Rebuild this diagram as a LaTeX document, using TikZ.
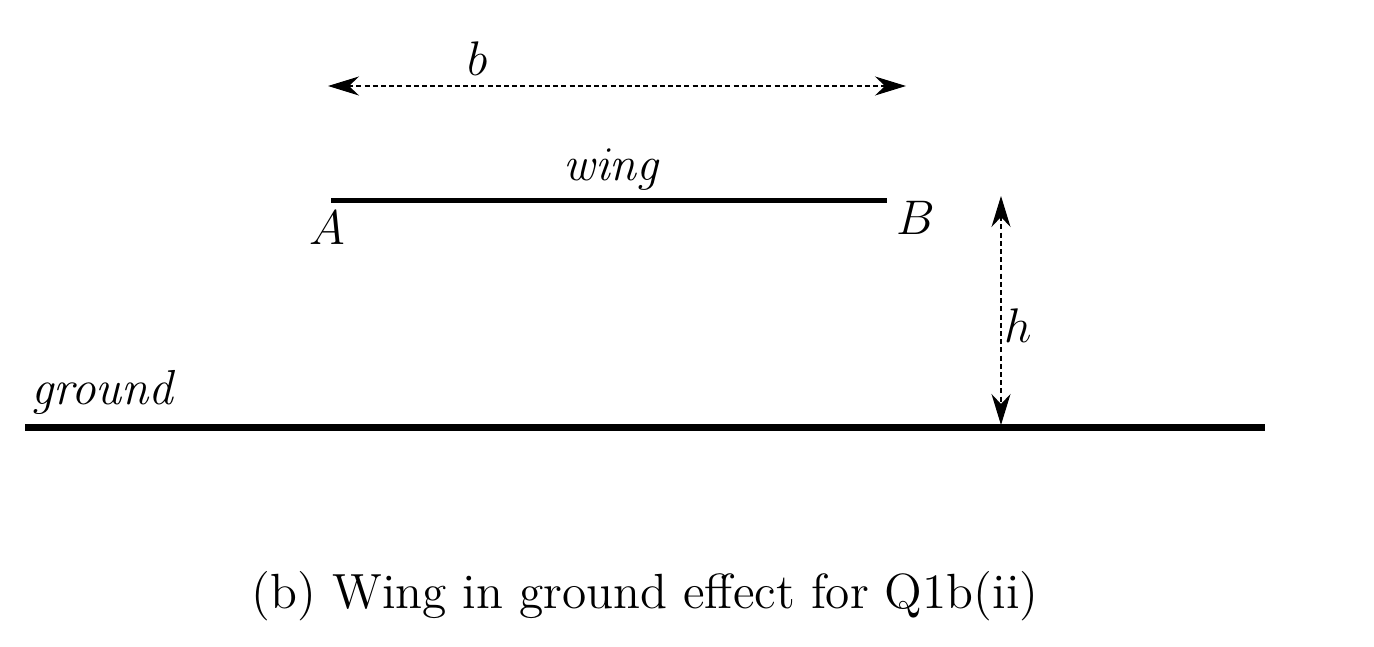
\documentclass[tikz,border=0pt,12pt]{standalone}
\usetikzlibrary{arrows.meta}
\tikzset{
  dim/.style={line width=1.5pt,dash pattern=on 5pt off 3.2pt,{Stealth[length=31pt,width=19pt,inset=10pt]}-{Stealth[length=31pt,width=19pt,inset=10pt]}},
  lbl/.style={inner sep=0pt,font=\fontsize{12}{14}\selectfont,scale=4.05},
}
\begin{document}
\begin{tikzpicture}[x=1pt,y=-1pt]
\useasboundingbox (0,0) rectangle (1374,647);
\coordinate (bl) at (328,86);
\coordinate (br) at (906,86);
\coordinate (wa) at (331,200.5);
\coordinate (wb) at (887,200.5);
\coordinate (ga) at (25,427.5);
\coordinate (gb) at (1265,427.5);
\coordinate (ht) at (1001,196);
\coordinate (hb) at (1001,425);
\draw[dim] (bl) -- (br);
\draw[line width=5pt] (wa) -- (wb);
\draw[line width=6.5pt] (ga) -- (gb);
\draw[dim] (ht) -- (hb);
\node[lbl] (lb) at (478,59) {$b$};
\node[lbl] (lwing) at (613,169.5) {$\mathit{wing}$};
\node[lbl] (lA) at (327,228) {$A$};
\node[lbl] (lB) at (916,218) {$B$};
\node[lbl] (lh) at (1018,326) {$h$};
\node[lbl,scale=1.012] (lg) at (105,392.5) {$\mathit{ground}$};
\node[inner sep=0pt,font=\fontsize{12}{14}\selectfont,scale=4.12] (cap) at (645,596) {(b) Wing in ground effect for Q1b(ii)};
\end{tikzpicture}
\end{document}
